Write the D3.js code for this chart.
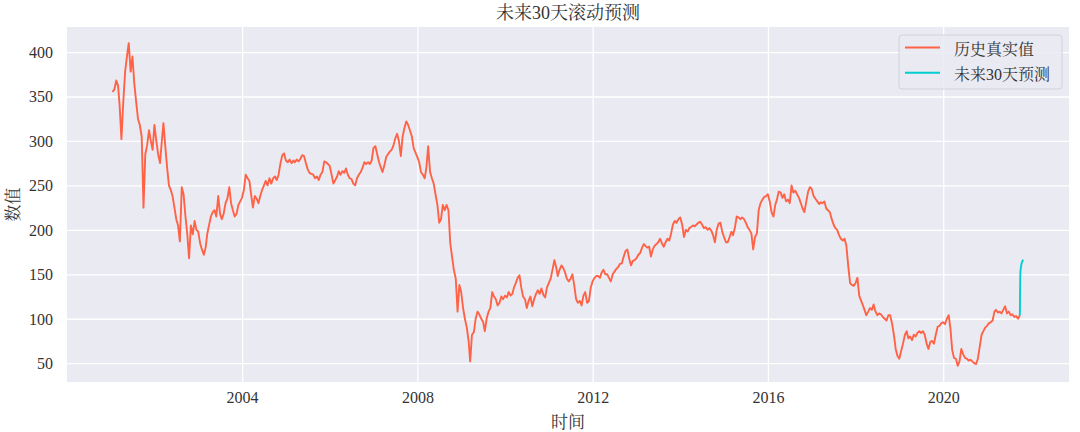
<!DOCTYPE html>
<html><head><meta charset="utf-8">
<script src="https://cdn.jsdelivr.net/npm/d3@7"></script>
<style>
body{margin:0;background:#fff}
svg{display:block}
text{font-family:"Liberation Serif","Noto Serif CJK SC","Noto Sans CJK SC",serif;fill:#333}
</style>
</head><body>
<svg id="c" width="1080" height="432"></svg>
<script>
// ---------- data ----------
const titleText = "未来30天滚动预测";
const xLabel = "时间";
const yLabel = "数值";
const seriesNames = ["历史真实值", "未来30天预测"];
const seriesColors = ["#FF6347", "#00CED1"];
const yTicks = [50, 100, 150, 200, 250, 300, 350, 400];
const xTickYears = [2004, 2008, 2012, 2016, 2020];

// history: semi-monthly observations starting here
const histStart = "2001-01-16";
const histValues = [
 355,358,368,362,340,302,345,378,395,410,
 378,395,365,345,325,318,305,225,285,295,
 312,300,290,318,300,285,275,300,320,295,
 270,250,245,238,225,212,205,187,248,240,
 215,195,168,205,195,210,200,198,185,178,
 172,180,195,205,215,220,222,215,238,218,
 212,218,230,235,248,230,222,215,218,228,
 232,236,245,262,258,255,240,225,238,235,
 230,238,245,250,255,250,258,252,
 258,260,256,262,275,284,286,278,276,279,275,278,
 276,279,277,280,284,283,275,268,264,263,
 262,258,260,256,262,265,277,276,274,272,
 262,252,256,260,266,262,266,264,269,262,
 258,257,252,250,258,262,265,270,276,274,
 276,274,278,292,294,285,276,270,265,272,
 282,285,288,290,295,303,308,300,283,305,
 315,322,318,312,305,292,287,282,276,265,
 262,258,270,294,265,
 258,252,240,228,208,
 212,228,222,228,222,185,170,155,145,108,
 138,130,112,100,90,75,52,82,85,100,
 108,105,100,97,86,100,108,112,130,125,
 122,115,118,125,122,126,124,130,126,128,
 135,140,146,149,135,125,122,112,120,125,
 114,122,128,132,128,134,127,124,135,140,
 145,155,166,158,148,155,160,157,152,145,
 142,145,150,138,122,118,120,115,126,130,
 118,120,135,142,146,148,148,146,
 152,155,150,150,146,142,150,153,156,158,162,162,
 170,176,178,168,160,165,166,168,172,174,
 180,184,182,180,181,170,178,182,184,186,
 190,185,181,186,190,188,196,206,210,208,
 212,214,206,192,200,198,202,203,205,204,
 206,208,209,206,202,203,200,202,199,194,
 186,200,207,208,198,192,186,186,192,198,
 194,202,215,214,212,214,212,208,203,200,
 196,178,192,196,222,230,234,237,
 238,240,232,220,215,228,234,243,242,236,
 240,232,234,230,250,242,244,240,236,230,
 224,220,232,243,248,246,238,235,232,229,
 231,230,232,224,222,220,212,206,202,200,
 194,190,188,190,182,160,140,138,137,140,
 146,126,120,115,110,104,108,112,110,116,
 108,104,106,105,102,100,98,104,104,95,
 82,66,58,55,64,72,82,86,78,80,
 76,82,80,84,86,84,86,82,72,66,
 74,75,72,82,91,92,95,96,94,100,
 104,88,65,56,55,47,52,66,60,56,
 55,53,54,52,50,49,55,68,82,86,
 90,92,95,96,98,108,110,107,108,106,
 110,114,106,108,104,105,102,103,100,104
];
// forecast: daily values for 30 days after the last observation (day 0 = last observation)
const forecastValues = [
 104,118,132,143,150,153,154.5,156,157,158,
 159,159.8,160.5,161.2,161.8,162.3,162.8,163.2,163.6,164,
 164.3,164.6,164.9,165.1,165.3,165.5,165.7,165.9,166,166.1,166.2
];

// ---------- build ----------
const parse = d3.timeParse("%Y-%m-%d");
const t0 = parse(histStart);
const hist = histValues.map((v, i) => ({
  date: d3.timeDay.offset(d3.timeMonth.offset(t0, Math.floor(i / 2)), (i % 2) * 15),
  value: v
}));
const lastDate = hist[hist.length - 1].date;
const fc = forecastValues.map((v, i) => ({ date: d3.timeDay.offset(lastDate, i), value: v }));

const W = 1080, H = 432;
const M = { left: 67, right: 11, top: 27, bottom: 50 };
const svg = d3.select("#c");

const all = hist.concat(fc);
const [dMin, dMax] = d3.extent(all, d => d.date);
const span = dMax - dMin;
const x = d3.scaleTime()
  .domain([new Date(+dMin - span * 0.05), new Date(+dMax + span * 0.05)])
  .range([M.left, W - M.right]);
const [vMin, vMax] = d3.extent(all, d => d.value);
const vr = vMax - vMin;
const y = d3.scaleLinear()
  .domain([vMin - vr * 0.05, vMax + vr * 0.05])
  .range([H - M.bottom, M.top]);

// background
svg.append("rect")
  .attr("x", M.left).attr("y", M.top)
  .attr("width", W - M.left - M.right).attr("height", H - M.top - M.bottom)
  .attr("fill", "#EAEAF2");

// grid
const xTickDates = xTickYears.map(yr => new Date(yr, 0, 1));
const gx = d3.axisBottom(x).tickValues(xTickDates).tickSize(-(H - M.top - M.bottom)).tickFormat(d3.timeFormat("%Y")).tickPadding(10);
const gy = d3.axisLeft(y).tickValues(yTicks).tickSize(-(W - M.left - M.right)).tickPadding(14);

const gX = svg.append("g").attr("transform", `translate(0,${H - M.bottom})`).call(gx);
const gY = svg.append("g").attr("transform", `translate(${M.left},0)`).call(gy);
[gX, gY].forEach(g => {
  g.select(".domain").remove();
  g.selectAll(".tick line").attr("stroke", "#fff").attr("stroke-width", 1.3);
  g.selectAll(".tick text").attr("fill", "#333").style("font-size", "16px");
});
gX.selectAll(".tick text").attr("dy", "0.71em");
gY.selectAll(".tick text").attr("dy", "0.33em");

// lines
const line = d3.line().x(d => x(d.date)).y(d => y(d.value));
svg.append("path").datum(hist)
  .attr("fill", "none").attr("stroke", seriesColors[0]).attr("stroke-width", 1.9)
  .attr("stroke-linejoin", "round").attr("d", line);
svg.append("path").datum(fc)
  .attr("fill", "none").attr("stroke", seriesColors[1]).attr("stroke-width", 1.9)
  .attr("stroke-linejoin", "round").attr("d", line);

// title & labels
svg.append("text").attr("x", (M.left + W - M.right) / 2).attr("y", 19)
  .attr("text-anchor", "middle").style("font-size", "18px").text(titleText);
svg.append("text").attr("x", (M.left + W - M.right) / 2).attr("y", 428)
  .attr("text-anchor", "middle").style("font-size", "17px").text(xLabel);
svg.append("text").attr("transform", `translate(18.5,${(M.top + H - M.bottom) / 2}) rotate(-90)`)
  .attr("text-anchor", "middle").style("font-size", "17px").text(yLabel);

// legend
const lg = svg.append("g");
lg.append("rect").attr("x", 899).attr("y", 35).attr("width", 163).attr("height", 54)
  .attr("rx", 3).attr("fill", "#EAEAF2").attr("fill-opacity", 0.85)
  .attr("stroke", "#d2d2da").attr("stroke-width", 1);
seriesNames.forEach((n, i) => {
  const cy = 47.5 + i * 25.3;
  lg.append("line").attr("x1", 905).attr("x2", 940).attr("y1", cy).attr("y2", cy)
    .attr("stroke", seriesColors[i]).attr("stroke-width", 1.9);
  lg.append("text").attr("x", 954).attr("y", cy + 7).style("font-size", "16px").text(n);
});
</script>
</body></html>
